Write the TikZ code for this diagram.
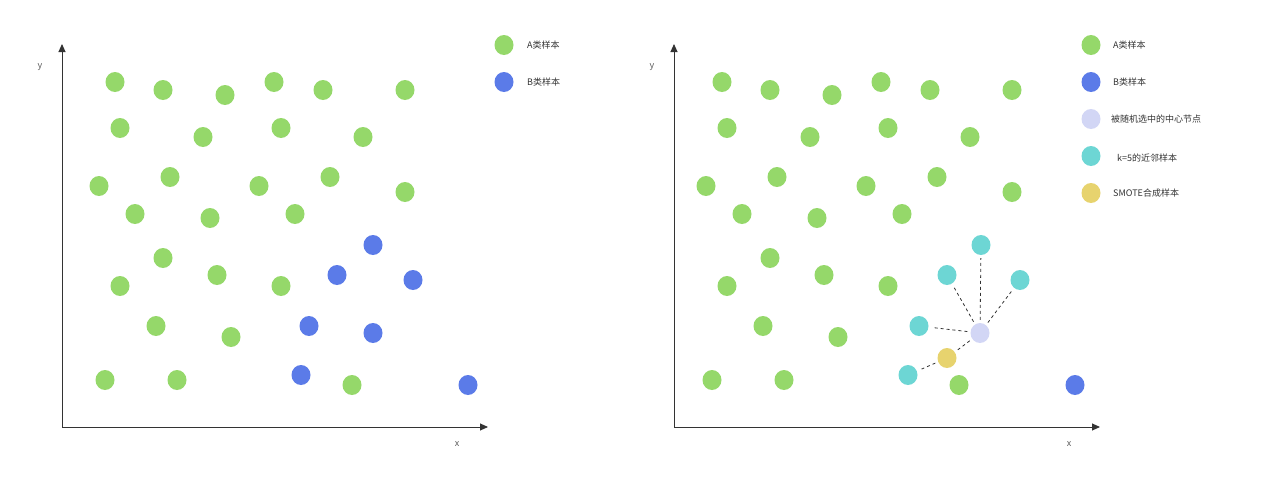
\documentclass[tikz,border=0pt]{standalone}
\usepackage{fontspec}
\setmainfont{Noto Sans CJK SC}
\usetikzlibrary{arrows.meta,shapes.geometric}
\definecolor{cg}{HTML}{95D86A}
\definecolor{cb}{HTML}{5B7BE8}
\definecolor{cl}{HTML}{D2D6F5}
\definecolor{cc}{HTML}{6DD6D4}
\definecolor{cy}{HTML}{E7D36E}
\definecolor{tx}{HTML}{333333}
\begin{document}
\begin{tikzpicture}[x=1pt,y=-1pt,
  dot/.style={ellipse,minimum width=19pt,minimum height=20pt,inner sep=0pt,fill=#1,draw=none},
  ax/.style={draw=tx,line width=0.9pt,-{Triangle[length=8pt,width=7pt]}},
  lab/.style={font=\fontsize{9}{10}\selectfont,text=tx,anchor=west,inner sep=0pt},
  axl/.style={font=\fontsize{9}{10}\selectfont,text=tx!80,inner sep=0pt},
  dl/.style={dashed,draw=tx,line width=0.8pt,shorten <=3pt,shorten >=3pt}]
\path[use as bounding box] (0,0) rectangle (1275,482);
% left axes
\coordinate (lo) at (62,427); \coordinate (ly) at (62,44); \coordinate (lx) at (488,427);
\draw[ax] (lo) -- (ly); \draw[ax] (lo) -- (lx);
\node[axl] (lyl) at (40,67) {y}; \node[axl] (lxl) at (457,444) {x};
% right axes
\coordinate (ro) at (674,427); \coordinate (ry) at (674,44); \coordinate (rx) at (1100,427);
\draw[ax] (ro) -- (ry); \draw[ax] (ro) -- (rx);
\node[axl] (ryl) at (652,67) {y}; \node[axl] (rxl) at (1069,444) {x};
% green points on both
\foreach \x/\y [count=\i] in {115/82,163/90,225/95,274/82,323/90,405/90,120/128,203/137,281/128,363/137,99/186,170/177,259/186,330/177,405/192,135/214,210/218,295/214,163/258,217/275,120/286,281/286,156/326,231/337,105/380,177/380,352/385}{
  \node[dot=cg] (lg\i) at (\x,\y) {};
  \node[dot=cg] (rg\i) at ({\x+607},\y) {};
}
% left blue
\foreach \x/\y [count=\i] in {373/245,337/275,413/280,309/326,373/333,301/375,468/385}{
  \node[dot=cb] (lb\i) at (\x,\y) {};
}
% right special points
\node[dot=cc] (k1) at (981,245) {};
\node[dot=cc] (k2) at (947,275) {};
\node[dot=cc] (k3) at (1020,280) {};
\node[dot=cc] (k4) at (919,326) {};
\node[dot=cc] (k5) at (908,375) {};
\node[dot=cl] (c) at (980,333) {};
\node[dot=cy] (s) at (947,358) {};
\node[dot=cb] (rb) at (1075,385) {};
\draw[dl] (c) -- (k1); \draw[dl] (c) -- (k2); \draw[dl] (c) -- (k3); \draw[dl] (c) -- (k4);
\draw[dl] (c) -- (s); \draw[dl] (s) -- (k5);
% legends
\node[dot=cg] (la1) at (504,45) {}; \node[lab] (lt1) at (527,45) {A类样本};
\node[dot=cb] (la2) at (504,82) {}; \node[lab] (lt2) at (527,82) {B类样本};
\node[dot=cg] (ra1) at (1091,45) {}; \node[lab] (rt1) at (1113,45) {A类样本};
\node[dot=cb] (ra2) at (1091,82) {}; \node[lab] (rt2) at (1113,82) {B类样本};
\node[dot=cl] (ra3) at (1091,119) {}; \node[lab] (rt3) at (1111,119) {被随机选中的中心节点};
\node[dot=cc] (ra4) at (1091,156) {}; \node[lab] (rt4) at (1117,158) {k=5的近邻样本};
\node[dot=cy] (ra5) at (1091,193) {}; \node[lab] (rt5) at (1113,193) {SMOTE合成样本};
\end{tikzpicture}
\end{document}
